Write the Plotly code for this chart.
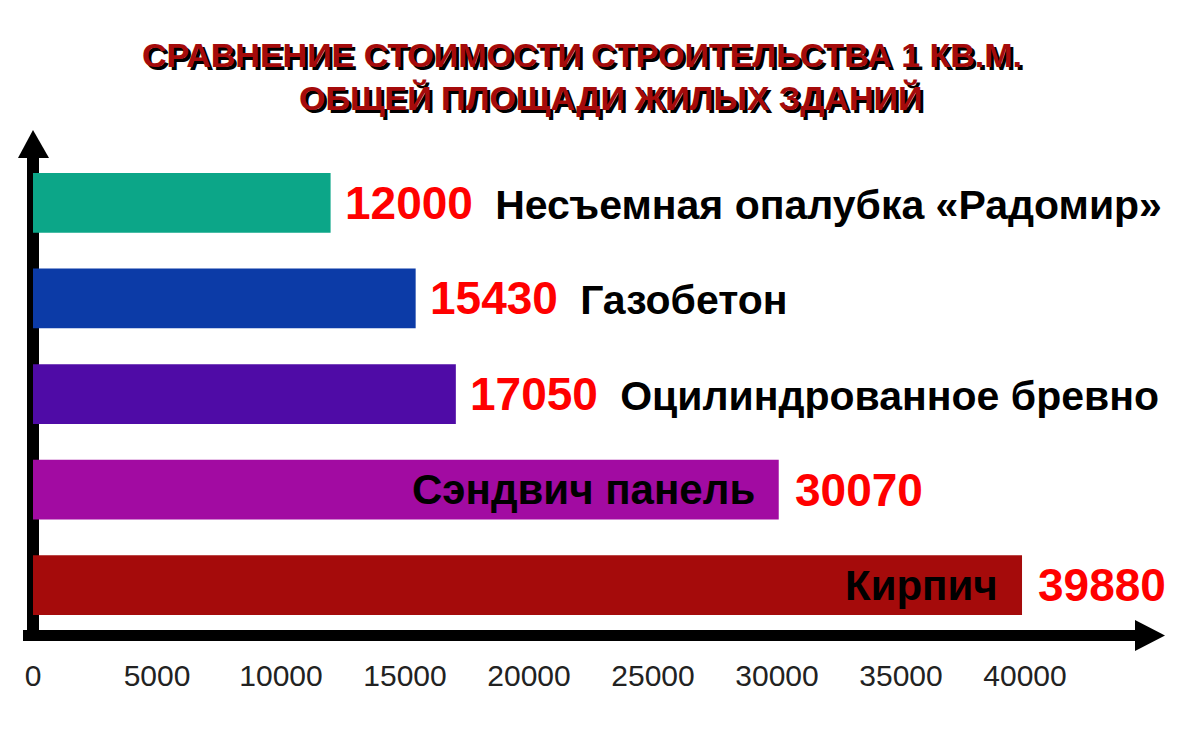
import plotly.graph_objects as go

# data
materials = ['Несъемная опалубка «Радомир»', 'Газобетон', 'Оцилиндрованное бревно',
             'Сэндвич панель', 'Кирпич']
costs = [12000, 15430, 17050, 30070, 39880]
bar_colors = ['#0ca688', '#0c3ba7', '#4f0ba6', '#a20ba2', '#a50b0b']
tick_values = [0, 5000, 10000, 15000, 20000, 25000, 30000, 35000, 40000]

W, H = 1200, 729
OFF = 8  # page body margin
L, R, T, B = 33 - OFF, 51 + OFF, 155 - OFF, 96 + OFF

# screen pixel -> paper helpers for the hand drawn axes
def px(x):
    return (x - OFF - L) / (W - L - R)

def py(y):
    return (H - B - (y - OFF)) / (H - T - B)

fig = go.Figure()
fig.add_trace(go.Bar(
    x=costs, y=materials, orientation='h',
    marker=dict(color=bar_colors, line=dict(width=0)),
    hoverinfo='x+y',
))

# value and name labels
for name, v in zip(materials, costs):
    if v > 25000:
        # name inside the bar, value after it
        fig.add_annotation(x=v, y=name, text='<b>%s</b>' % name, showarrow=False,
                           xanchor='right', xshift=-22,
                           font=dict(size=42, color='black', family='Liberation Sans, Arial'))
        fig.add_annotation(x=v, y=name, text='<b>%d</b>' % v, showarrow=False,
                           xanchor='left', xshift=14,
                           font=dict(size=46, color='#ff0000', family='Liberation Sans, Arial'))
    else:
        txt = ("<b><span style='color:#ff0000;font-size:46px'>%d</span>"
               "<span style='font-size:40px'>  </span>%s</b>") % (v, name)
        fig.add_annotation(x=v, y=name, text=txt, showarrow=False,
                           xanchor='left', xshift=12,
                           font=dict(size=41, color='black', family='Liberation Sans, Arial'))

# title, two lines with a dark shadow
title_font = dict(size=34, color='#a50b0b', family='Liberation Sans Narrow, Liberation Sans, Arial',
                  shadow='3px 3px 0px #000000')
fig.add_annotation(x=px(582), y=py(55), xref='paper', yref='paper', showarrow=False,
                   xanchor='center', yanchor='middle',
                   text='<b>СРАВНЕНИЕ СТОИМОСТИ СТРОИТЕЛЬСТВА 1 КВ.М.</b>', font=title_font)
fig.add_annotation(x=px(611), y=py(98), xref='paper', yref='paper', showarrow=False,
                   xanchor='center', yanchor='middle',
                   text='<b>ОБЩЕЙ ПЛОЩАДИ ЖИЛЫХ ЗДАНИЙ</b>', font=title_font)

# axes with arrows
shapes = [
    dict(type='rect', x0=px(27), x1=px(39), y0=py(641), y1=py(156)),
    dict(type='path', path='M %f,%f L %f,%f L %f,%f Z' % (px(18), py(158), px(33), py(130), px(49), py(158))),
    dict(type='rect', x0=px(23), x1=px(1137), y0=py(641), y1=py(630)),
    dict(type='path', path='M %f,%f L %f,%f L %f,%f Z' % (px(1135), py(620), px(1165), py(635.5), px(1135), py(651))),
]
for s in shapes:
    s.update(xref='paper', yref='paper', fillcolor='black', line=dict(width=0), layer='below')
fig.update_layout(shapes=shapes)

fig.update_layout(
    width=W, height=H,
    margin=dict(l=L, r=R, t=T, b=B),
    paper_bgcolor='white', plot_bgcolor='white',
    bargap=0.375,
    showlegend=False,
    xaxis=dict(range=[0, 45000], tickvals=tick_values, tickformat='d', showgrid=False,
               zeroline=False, showline=False, ticks='', ticklabelstandoff=22,
               tickfont=dict(size=30, color='#222222', family='Liberation Sans, Arial')),
    yaxis=dict(autorange='reversed', showticklabels=False, showgrid=False, zeroline=False,
               showline=False, ticks=''),
)

fig.write_html("out.html")
